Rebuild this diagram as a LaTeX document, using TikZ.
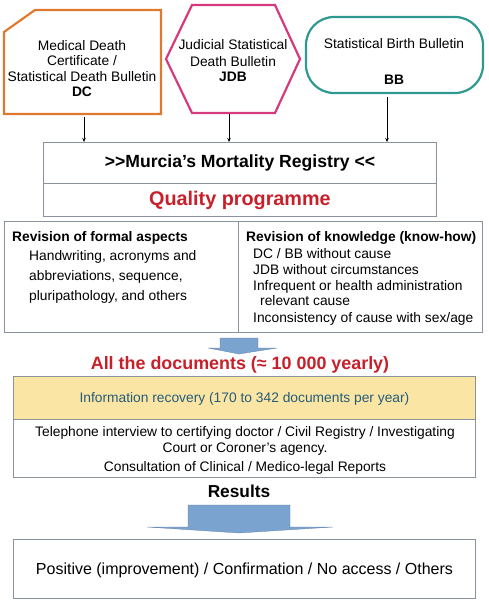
\documentclass[tikz,border=0pt]{standalone}
\usepackage{fontspec}
\setmainfont{Liberation Sans}
\usetikzlibrary{arrows.meta}
\definecolor{dcorange}{HTML}{E0782F}
\definecolor{jdbpink}{HTML}{D63A7E}
\definecolor{bbteal}{HTML}{2E9990}
\definecolor{qred}{HTML}{C8202A}
\definecolor{barrow}{HTML}{7BA3D0}
\definecolor{yfill}{HTML}{FAE5A5}
\definecolor{infoblue}{HTML}{255C78}
\definecolor{boxgray}{HTML}{8A929E}
\tikzset{
  box/.style={draw=boxgray, line width=0.9pt, rectangle, inner sep=0pt, anchor=north west},
  txt/.style={inner sep=0pt, anchor=mid, font=\fontsize{13.8}{16}\selectfont},
  ltxt/.style={inner sep=0pt, anchor=mid west, font=\fontsize{13.8}{16}\selectfont},
  smallarrow/.style={-{Stealth[length=4pt,width=3.5pt]}, line width=0.6pt},
  blockarrow/.style={fill=barrow, draw=barrow!80!black, line width=0.3pt}
}
\begin{document}
\begin{tikzpicture}[x=1pt,y=-1pt]
\useasboundingbox (0,0) rectangle (488,603);
% source documents
\draw[dcorange, line width=2.2pt, line join=miter] (4,32) -- (35,10) -- (161,10) -- (161,114) -- (4,114) -- cycle;
\node[txt] (dc1) at (82,48) {Medical Death};
\node[txt] (dc2) at (82,63) {Certificate /};
\node[txt] (dc3) at (82,79) {Statistical Death Bulletin};
\node[txt, font=\fontsize{13.8}{16}\selectfont\bfseries] (dc) at (82,94) {DC};
\draw[jdbpink, line width=2.2pt] (192,5) -- (275,5) -- (300,59) -- (275,113) -- (192,113) -- (166,59) -- cycle;
\node[txt] (jdb1) at (233,47) {Judicial Statistical};
\node[txt] (jdb2) at (233,64) {Death Bulletin};
\node[txt, font=\fontsize{13.8}{16}\selectfont\bfseries] (jdb) at (233,79) {JDB};
\draw[bbteal, line width=2.2pt, rounded corners=28pt] (306,17) rectangle (483,93);
\node[txt] (bbt) at (394,46) {Statistical Birth Bulletin};
\node[txt, font=\fontsize{13.8}{16}\selectfont\bfseries] (bb) at (394,82) {BB};
% registry boxes
\node[box, minimum width=393pt, minimum height=41pt] (reg) at (43,142) {};
\node[txt, font=\fontsize{17.6}{20}\selectfont\bfseries] (regt) at ([yshift=-2pt]reg.center) {>{}>Murcia’s Mortality Registry <{}<};
\node[box, minimum width=393pt, minimum height=33pt] (qual) at (43,183) {};
\node[txt, font=\fontsize{19.8}{22}\selectfont\bfseries, text=qred] (qualt) at ([yshift=-3pt]qual.center) {Quality programme};
\coordinate (dcb) at (84,117);
\coordinate (jdbb) at (229,114);
\coordinate (bbb) at (387,97);
\draw[smallarrow] (dcb) -- (dcb |- reg.north);
\draw[smallarrow] (jdbb) -- (jdbb |- reg.north);
\draw[smallarrow] (bbb) -- (bbb |- reg.north);
% revision boxes
\node[box, minimum width=234pt, minimum height=111pt] (left) at (4,221) {};
\node[box, minimum width=244pt, minimum height=111pt] (right) at (238,221) {};
\node[ltxt, font=\fontsize{13.8}{16}\selectfont\bfseries] (l0) at (12,239) {Revision of formal aspects};
\node[ltxt] (l1) at (29,258) {Handwriting, acronyms and};
\node[ltxt] (l2) at (29,278) {abbreviations, sequence,};
\node[ltxt] (l3) at (29,298) {pluripathology, and others};
\node[ltxt, font=\fontsize{13.8}{16}\selectfont\bfseries] (r0) at (246,239) {Revision of knowledge (know-how)};
\node[ltxt] (r1) at (253,256) {DC / BB without cause};
\node[ltxt] (r2) at (253,272) {JDB without circumstances};
\node[ltxt] (r3) at (253,288) {Infrequent or health administration};
\node[ltxt] (r4) at (260,303) {relevant cause};
\node[ltxt] (r5) at (253,320) {Inconsistency of cause with sex/age};
% block arrow 1
\draw[blockarrow] (220,338) -- (258,338) -- (258,348) -- (277,348) -- (239,354) -- (208,348) -- (220,348) -- cycle;
\node[txt, font=\fontsize{17.9}{20}\selectfont\bfseries, text=qred] (all) at (240,367) {All the documents (≈ 10 000 yearly)};
% information recovery
\node[box, fill=yfill, minimum width=462pt, minimum height=43pt] (info) at (13,376) {};
\node[txt, text=infoblue] (infot) at ([yshift=-2pt]info.center) {Information recovery (170 to 342 documents per year)};
\node[box, minimum width=462pt, minimum height=58pt] (tel) at (13,419) {};
\node[txt] (tel1) at (245,434) {Telephone interview to certifying doctor / Civil Registry / Investigating};
\node[txt] (tel2) at (245,450) {Court or Coroner’s agency.};
\node[txt] (tel3) at (245,469) {Consultation of Clinical / Medico-legal Reports};
% results
\node[txt, font=\fontsize{17.3}{19}\selectfont\bfseries] (res) at (239,495) {Results};
\draw[blockarrow] (188,505) -- (290,505) -- (290,527) -- (333,527) -- (239,533) -- (147,527) -- (188,527) -- cycle;
\node[box, minimum width=462pt, minimum height=59pt] (fin) at (13,539) {};
\node[txt, font=\fontsize{16}{18}\selectfont] (fint) at ([yshift=-3pt]fin.center) {Positive (improvement) / Confirmation / No access / Others};
\end{tikzpicture}
\end{document}
